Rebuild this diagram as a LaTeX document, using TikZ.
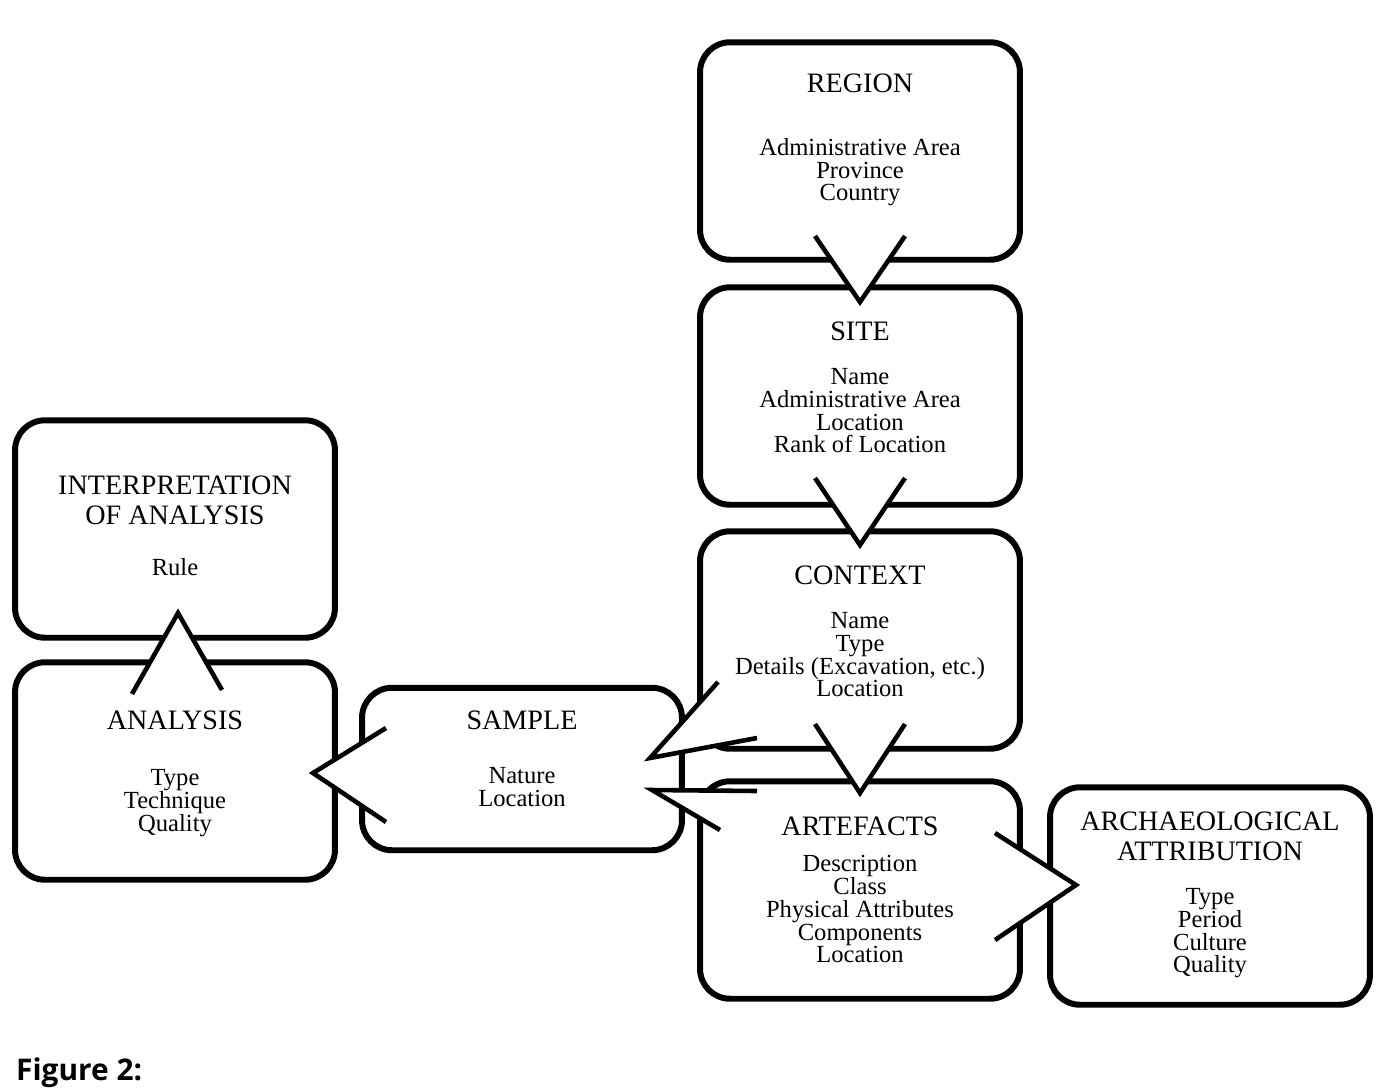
\documentclass[tikz,border=0pt]{standalone}
\usepackage{fontspec}
\setmainfont{Liberation Serif}
\newfontfamily\capfont{Open Sans}
\usetikzlibrary{positioning}

\tikzset{
  box/.style={draw,line width=3.4pt,rounded corners=0.6cm,minimum width=6.4cm,minimum height=4.35cm,inner sep=0pt},
  title/.style={font=\fontsize{16}{17}\selectfont,align=center,below},
  body/.style={font=\fontsize{14}{13}\selectfont,align=center,below},
  pointer/.style={line width=2.6pt,line join=miter,fill=white}
}
\newcommand{\pointer}[3]{\filldraw[pointer] (#1) -- (#2) -- (#3);}

\begin{document}
\begin{tikzpicture}[x=0.02cm,y=-0.02cm]
\clip (0,0) rectangle (1376,1090);
\useasboundingbox (0,0) rectangle (1376,1090);

% boxes
\node[box] (region) at (860,151) {};
\node[box] (site) at (860,396) {};
\node[box] (context) at (860,640) {};
\node[box] (artefacts) at (860,890) {};
\node[box] (attribution) at (1210,896) {};
\node[box,minimum height=3.25cm] (sample) at (522,769) {};
\node[box] (analysis) at (175,771) {};
\node[box] (interp) at (175,529) {};

% texts
\node[title] (regiont) at (860,68) {REGION};
\node[body] (regionb) at (860,132) {Administrative Area\\Province\\Country};
\node[title] (sitet) at (860,316) {SITE};
\node[body] (siteb) at (860,362) {Name\\Administrative Area\\Location\\Rank of Location};
\node[title] (contextt) at (860,560) {CONTEXT};
\node[body] (contextb) at (860,606) {Name\\Type\\Details (Excavation, etc.)\\Location};
\node[title] (artefactst) at (860,811) {ARTEFACTS};
\node[body] (artefactsb) at (860,849) {Description\\Class\\Physical Attributes\\Components\\Location};
\node[title] (attributiont) at (1210,806) {ARCHAEOLOGICAL\\ATTRIBUTION};
\node[body] (attributionb) at (1210,882) {Type\\Period\\Culture\\Quality};
\node[title] (samplet) at (522,705) {SAMPLE};
\node[body] (sampleb) at (522,761) {Nature\\Location};
\node[title] (analysist) at (175,705) {ANALYSIS};
\node[body] (analysisb) at (175,763) {Type\\Technique\\Quality};
\node[title] (interpt) at (175,470) {INTERPRETATION\\OF ANALYSIS};
\node[body] (interpb) at (175,552) {Rule};

% pointers
\coordinate (p1a) at (815,236); \coordinate (p1t) at (860,302); \coordinate (p1b) at (905,236);
\coordinate (p2a) at (815,478); \coordinate (p2t) at (860,545); \coordinate (p2b) at (905,478);
\coordinate (p3a) at (815,724); \coordinate (p3t) at (860,793); \coordinate (p3b) at (905,724);
\coordinate (p4a) at (718,682); \coordinate (p4t) at (650,758); \coordinate (p4b) at (757,738);
\coordinate (p5a) at (757,791); \coordinate (p5t) at (652,790); \coordinate (p5b) at (720,830);
\coordinate (p6a) at (995,833); \coordinate (p6t) at (1076,885); \coordinate (p6b) at (995,940);
\coordinate (p7a) at (386,728); \coordinate (p7t) at (313,773); \coordinate (p7b) at (386,822);
\coordinate (p8a) at (132,694); \coordinate (p8t) at (178,613); \coordinate (p8b) at (222,690);
\foreach \p in {1,...,8} {
  \pointer{p\p a}{p\p t}{p\p b}
}

\node[anchor=base west,font=\capfont\bfseries\fontsize{17}{20}\selectfont] (figlabel) at (10,1080) {Figure 2:};
\end{tikzpicture}
\end{document}
